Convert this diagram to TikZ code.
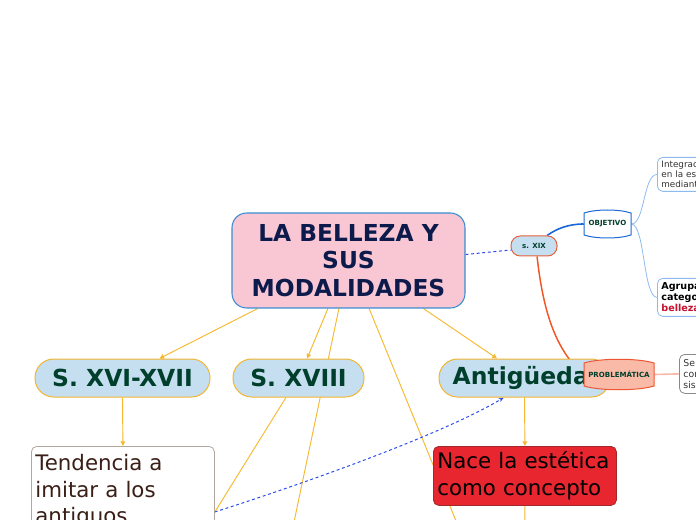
\documentclass[tikz,border=0pt]{standalone}
\usepackage{fontspec}
\setmainfont{DejaVu Sans}
\usetikzlibrary{arrows.meta,calc,backgrounds}
\definecolor{cenF}{HTML}{F9C6D3}
\definecolor{cenB}{HTML}{3A8DD0}
\definecolor{cenT}{HTML}{0C1B4B}
\definecolor{eraF}{HTML}{C5DFF0}
\definecolor{eraB}{HTML}{F3B530}
\definecolor{eraT}{HTML}{003F2C}
\definecolor{connY}{HTML}{F5B82E}
\definecolor{probF}{HTML}{F9BBA7}
\definecolor{probB}{HTML}{EE5533}
\definecolor{sxixB}{HTML}{E5603C}
\definecolor{objB}{HTML}{1E6AD6}
\definecolor{noteB}{HTML}{8DBAF0}
\definecolor{seB}{HTML}{8A8A8A}
\definecolor{noteT}{HTML}{333333}
\definecolor{bellR}{HTML}{C8102E}
\definecolor{tenB}{HTML}{B3A69E}
\definecolor{tenT}{HTML}{3A1F16}
\definecolor{naceF}{HTML}{E8262F}
\definecolor{naceB}{HTML}{9E2A2B}
\definecolor{dashB}{HTML}{2A4CEF}
\definecolor{redC}{HTML}{F05523}
\definecolor{blueC}{HTML}{1866D8}
\definecolor{salmC}{HTML}{F7B9A9}
\begin{document}
\begin{tikzpicture}[x=0.75pt,y=-0.75pt,
  conn/.style={draw=connY,line width=0.7pt},
  arr/.style={conn,-{Triangle[length=3.5pt,width=3.5pt]}},
  era/.style={draw=eraB,fill=eraF,line width=0.75pt,rounded corners=14pt,text=eraT,
    font=\fontsize{17.6}{20}\selectfont\bfseries,minimum height=28.5pt,inner sep=0pt},
  small/.style={font=\fontsize{5.3}{6}\selectfont\bfseries,text=eraT,inner sep=0pt},
  note/.style={anchor=north west,align=left,rounded corners=4pt,fill=white,line width=0.6pt,
    inner xsep=3pt,inner ysep=2.5pt,text width=75pt},
  dashedlink/.style={draw=dashB,line width=0.75pt,dash pattern=on 2.2pt off 2pt},
]
\useasboundingbox (0,0) rectangle (696,520);

% central node
\node[draw=cenB,fill=cenF,line width=0.8pt,rounded corners=11pt,minimum width=174.75pt,
  minimum height=71.25pt,align=center,text=cenT,inner sep=0pt,
  font=\fontsize{17.5}{20.6}\selectfont\bfseries] (c) at (348.5,260.5) {LA BELLEZA Y\\SUS\\MODALIDADES};

% era nodes
\node[era,minimum width=131.25pt] (s16) at (122.5,378) {S. XVI-XVII};
\node[era,minimum width=98.25pt] (s18) at (298.5,378) {S. XVIII};
\node[era,minimum width=128.25pt] (a) at (524.5,378) {\hspace*{7pt}Antigüedad};

% problematica
\path[draw=probB,fill=probF,line width=0.75pt] (584,363) .. controls (600,358) and (638,358) .. (654,363)
  -- (654,386) .. controls (638,391) and (600,391) .. (584,386) -- cycle;
\node[small,minimum width=52.5pt,minimum height=21.75pt] (p) at (619,374.5) {PROBLEMÁTICA};

% s. XIX
\node[draw=sxixB,fill=eraF,line width=0.75pt,rounded corners=7pt,minimum width=34.5pt,
  minimum height=15pt,small] (sx) at (534,246) {s. XIX};

% objetivo
\path[draw=objB,fill=white,line width=0.75pt] (584,213) .. controls (596,209) and (619,209) .. (631,213)
  -- (631,235) .. controls (619,239) and (596,239) .. (584,235) -- cycle;
\node[small,minimum width=35.25pt,minimum height=19.5pt] (o) at (607.5,224) {OBJETIVO};

% notes
\node[note,draw=noteB,minimum height=25.5pt,font=\fontsize{6.6}{7.5}\selectfont,text=noteT] (i) at (657,157)
  {Integración\\en la estética\\mediante};
\node[note,draw=noteB,minimum height=28.5pt,font=\fontsize{7.2}{8.25}\selectfont\bfseries] (ag) at (657,278)
  {Agrupa\\categorías\\\textcolor{bellR}{belleza}};
\node[note,draw=seB,minimum height=29.25pt,font=\fontsize{7}{8.25}\selectfont,text=noteT] (se) at (679,354)
  {Se\\con\\sis};

% bottom boxes
\node[draw=tenB,fill=white,line width=0.6pt,rounded corners=4pt,anchor=north west,text width=131.25pt,
  align=left,inner xsep=3pt,inner ysep=6pt,font=\fontsize{16}{20}\selectfont,text=tenT] (t) at (31,446)
  {Tendencia a\\imitar a los\\antiguos};
\node[draw=naceB,fill=naceF,line width=0.6pt,rounded corners=4pt,anchor=north west,text width=131.25pt,
  align=left,inner xsep=3pt,inner ysep=0pt,minimum height=44.25pt,font=\fontsize{16}{20}\selectfont,
  text=black] (n) at (433,446) {Nace la estética\\como concepto};

\coordinate (offA) at (286,560);
\coordinate (offB) at (472,560);
\coordinate (offC) at (185,560);
\coordinate (offD) at (524.5,560);

\begin{scope}[on background layer]
  \draw[arr] ($(c.south west)!0.112!(c.south east)$) -- ($(s16.north west)!0.71!(s16.north east)$);
  \draw[arr] ($(c.south west)!0.412!(c.south east)$) -- ($(s18.north west)!0.565!(s18.north east)$);
  \draw[conn] ($(c.south west)!0.459!(c.south east)$) -- (offA);
  \draw[conn] ($(c.south west)!0.588!(c.south east)$) -- (offB);
  \draw[arr] ($(c.south west)!0.82!(c.south east)$) -- ($(a.north west)!0.34!(a.north east)$);
  \draw[arr] (s16.south) -- (t.north);
  \draw[arr] (a.south) -- (n.north);
  \draw[conn] (n.south) -- (offD);
  \draw[conn] ($(s18.south west)!0.405!(s18.south east)$) -- (offC);
  \draw[draw=redC,line width=1.1pt] ($(sx.south west)!0.565!(sx.south east)$)
    .. controls (543,310) and (555,350) .. (p.west);
  \draw[draw=blueC,line width=1.2pt] ($(sx.north west)!0.78!(sx.north east)$)
    .. controls (556,229) and (568,224) .. (o.west);
  \draw[draw=noteB,line width=0.6pt] (o.east) .. controls (645,224) and (643,175) .. (i.west);
  \draw[draw=noteB,line width=0.6pt] (o.east) .. controls (645,224) and (643,297) .. (ag.west);
  \draw[draw=salmC,line width=1.2pt] (p.east) -- (se.west);
  \draw[dashedlink] ($(c.east)+(0,-6)$) -- ($(sx.west)+(0,4)$);
  \draw[dashedlink,-{Stealth[length=4pt,width=3pt]}] ($(t.north east)+(0,66)$)
    .. controls (330,475) and (450,430) .. ($(a.south west)!0.38!(a.south east)$);
\end{scope}
\end{tikzpicture}
\end{document}
